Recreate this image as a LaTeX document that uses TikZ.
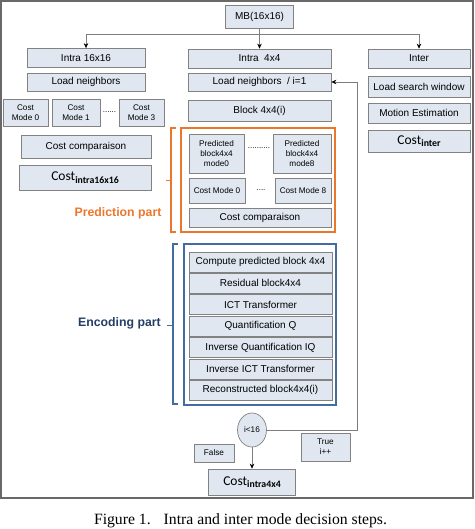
\documentclass[tikz,border=0pt]{standalone}
\usepackage{fontspec}
\setmainfont{Liberation Sans}
\newfontfamily\calibriFont{Carlito}
\newfontfamily\captionFont{Liberation Serif}
\usetikzlibrary{arrows.meta,shapes.geometric}

\definecolor{boxFill}{RGB}{224,231,241}
\definecolor{boxEdge}{RGB}{130,130,130}
\definecolor{linkGray}{RGB}{125,125,125}
\definecolor{frameGray}{RGB}{105,105,105}
\definecolor{predOrange}{RGB}{234,120,44}
\definecolor{encBlue}{RGB}{68,108,163}
\definecolor{encNavy}{RGB}{36,62,102}

\newcommand{\costSub}[1]{{\calibriFont\fontsize{13.5}{15}\selectfont Cost}\raisebox{-2.6pt}{\calibriFont\bfseries\fontsize{9.8}{11}\selectfont #1}}

\begin{document}
\begin{tikzpicture}[
        x=1pt, y=-1pt,
        every node/.style={font=\fontsize{10}{11.5}\selectfont},
        stepBox/.style={draw=boxEdge, fill=boxFill, line width=0.7pt, inner sep=1pt, align=center},
        smallBox/.style={stepBox, font=\fontsize{8.2}{9.8}\selectfont},
        flowArrow/.style={draw=linkGray, line width=0.7pt, -{Stealth[length=5pt, width=4.5pt, black]}},
        flowLine/.style={draw=linkGray, line width=0.7pt},
        predFrame/.style={draw=predOrange, line width=1.2pt},
        encFrame/.style={draw=encBlue, line width=1.2pt},
        dotsLabel/.style={font=\fontsize{8}{9}\selectfont, inner sep=0pt}
    ]
        \useasboundingbox (0,0) rectangle (474,529);

        % outer frame and caption
        \draw[frameGray, line width=2pt] (1,1) rectangle (473,498);
        \node[font=\captionFont\fontsize{15.7}{18}\selectfont] (caption) at (240.5,521)
            {Figure 1.\hspace{13pt}Intra and inter mode decision steps.};

        % macro block
        \node[stepBox, minimum width=68, minimum height=23] (mb) at (259.5,16.5) {MB(16x16)};

        % left column: intra 16x16
        \node[stepBox, minimum width=118, minimum height=19] (intraA) at (86,58) {Intra 16x16};
        \node[stepBox, minimum width=118, minimum height=18] (loadA) at (86,82) {Load neighbors};
        \node[smallBox, minimum width=45, minimum height=27] (costA0) at (25.5,112.5) {Cost\\Mode 0};
        \node[smallBox, minimum width=48, minimum height=27] (costA1) at (76,112.5) {Cost\\Mode 1};
        \node[smallBox, minimum width=45, minimum height=27] (costA3) at (141.5,112.5) {Cost\\Mode 3};
        \node[dotsLabel] (dotsA) at (109.5,112) {......};
        \node[stepBox, minimum width=130, minimum height=23] (cmpA) at (86,146.5) {Cost comparaison};
        \node[stepBox, minimum width=132, minimum height=25] (resA) at (85,177.5) {\costSub{intra16x16}};

        % middle column: intra 4x4
        \node[stepBox, minimum width=143, minimum height=19] (intraB) at (259.5,58.5) {Intra\ \ 4x4};
        \node[stepBox, minimum width=143, minimum height=18] (loadB) at (259.5,82) {Load neighbors\ \ / i=1};
        \node[stepBox, minimum width=143, minimum height=21] (blockB) at (259.5,111) {Block 4x4(i)};

        % prediction part
        \draw[predFrame] (181,128) rectangle (335,232);
        \draw[predFrame] (176,128) -- (171,128) -- (171,232) -- (176,232);
        \draw[predFrame, line width=0.8pt] (171,180) -- (166,180);
        \node[font=\bfseries\fontsize{12.3}{14}\selectfont, text=predOrange] (predLbl) at (118,213) {Prediction part};
        \node[smallBox, minimum width=55, minimum height=39] (predM0) at (216.5,153.5) {Predicted\\block4x4\\mode0};
        \node[smallBox, minimum width=58, minimum height=39] (predM8) at (302,153.5) {Predicted\\block4x4\\mode8};
        \node[dotsLabel] (dotsB) at (259,148.5) {..........};
        \node[smallBox, minimum width=56, minimum height=25] (costB0) at (217,190.5) {Cost Mode 0};
        \node[smallBox, minimum width=56, minimum height=25] (costB8) at (303,190.5) {Cost Mode 8};
        \node[dotsLabel] (dotsC) at (261,190.5) {....};
        \node[stepBox, minimum width=142, minimum height=19] (cmpB) at (260,217.5) {Cost comparaison};

        % encoding part
        \draw[encFrame] (184,244) rectangle (336,405);
        \draw[encFrame] (178,244) -- (173,244) -- (173,404) -- (178,404);
        \draw[encFrame, line width=0.8pt] (173,325) -- (167,325);
        \node[font=\bfseries\fontsize{12.3}{14}\selectfont, text=encNavy] (encLbl) at (119.5,323) {Encoding part};
        \node[stepBox, minimum width=143, minimum height=20] (enc1) at (260.5,262) {Compute predicted block 4x4};
        \node[stepBox, minimum width=143, minimum height=20] (enc2) at (260.5,283.4) {Residual block4x4};
        \node[stepBox, minimum width=143, minimum height=20] (enc3) at (260.5,304.8) {ICT Transformer};
        \node[stepBox, minimum width=143, minimum height=20] (enc4) at (260.5,326.2) {Quantification Q};
        \node[stepBox, minimum width=143, minimum height=20] (enc5) at (260.5,347.6) {Inverse Quantification IQ};
        \node[stepBox, minimum width=143, minimum height=20] (enc6) at (260.5,369) {Inverse ICT Transformer};
        \node[stepBox, minimum width=143, minimum height=20] (enc7) at (260.5,390.4) {Reconstructed block4x4(i)};

        % loop test and intra 4x4 result
        \node[smallBox, ellipse, inner sep=0pt, minimum width=29, minimum height=34] (loop) at (252,430) {i<16};
        \node[smallBox, minimum width=40, minimum height=18] (falseLbl) at (214,453) {False};
        \node[smallBox, minimum width=49, minimum height=28] (trueLbl) at (325.5,447) {True\\i++};
        \node[stepBox, minimum width=87, minimum height=26] (resB) at (252,482) {\costSub{intra4x4}};

        % right column: inter
        \node[stepBox, minimum width=102, minimum height=19] (inter) at (419,58.5) {Inter};
        \node[stepBox, minimum width=102, minimum height=21] (loadC) at (419,86.5) {Load search window};
        \node[stepBox, minimum width=102, minimum height=20] (meC) at (419,113) {Motion Estimation};
        \node[stepBox, minimum width=102, minimum height=22] (resC) at (419,141) {\costSub{inter}};

        % connectors
        \coordinate (bus) at (259.5,34);
        \coordinate (back) at (357,82);
        \draw[flowLine] (mb.south) -- (bus);
        \draw[flowArrow] (bus) -| (intraA.north);
        \draw[flowArrow] (bus) -| (inter.north);
        \draw[flowArrow] (mb.south) -- (intraB.north);
        \draw[flowArrow] (loop.east) -| (back) -- (loadB.east);
        \draw[flowArrow] (loop.south) -- (resB.north);

    \end{tikzpicture}
\end{document}
